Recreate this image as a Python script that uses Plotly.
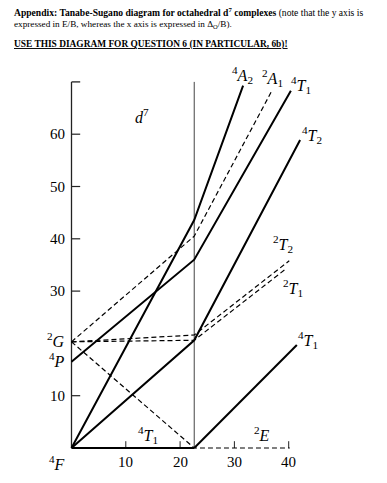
import plotly.graph_objects as go

# ---------------- data (E/B vs Delta_o/B) ----------------
crossover = 22.6

# solid (quartet) curves
q4A2_x = [0, 22.6, 31.6]
q4A2_y = [0, 43.6, 69.3]
q4T2_x = [0, 22.6, 42.1]
q4T2_y = [0, 20.6, 58.9]
q4T1P_x = [0, 22.6, 40.4]
q4T1P_y = [16.5, 36.0, 68.3]
q4T1_ls_x = [22.6, 41.5]
q4T1_ls_y = [0, 19.7]
ground_x = [0, 22.6]
ground_y = [0, 0]

# dashed (doublet) curves
d2A1_x = [0, 22.6, 36.9]
d2A1_y = [20.3, 40.5, 68.3]
d2T2_x = [0, 22.6, 40.1]
d2T2_y = [20.3, 21.6, 35.8]
d2T1_x = [0, 22.6, 39.3]
d2T1_y = [20.3, 20.6, 34.1]
d2E_x = [0, 22.6, 40.2]
d2E_y = [20.3, 0, 0]

# axes ticks
yticks = [10, 30, 40, 50, 60]
ytick_labels = ["10", "30", "40", "50", "60"]
xticks = [10, 20, 30, 40]
xtick_labels = ["10", "20", "30", "40"]
y_top = 70

# term labels: (text, x, y)
term_labels = [
    ("<sup>4</sup><i>A</i><sub>2</sub>", 31.4, 71.4),
    ("<sup>2</sup><i>A</i><sub>1</sub>", 37.1, 70.8),
    ("<sup>4</sup><i>T</i><sub>1</sub>", 42.2, 69.5),
    ("<sup>4</sup><i>T</i><sub>2</sub>", 44.2, 59.8),
    ("<sup>2</sup><i>T</i><sub>2</sub>", 38.9, 39.0),
    ("<sup>2</sup><i>T</i><sub>1</sub>", 40.7, 30.6),
    ("<sup>4</sup><i>T</i><sub>1</sub>", 43.5, 20.7),
    ("<sup>2</sup><i>E</i>", 35.1, 2.6),
    ("<sup>4</sup><i>T</i><sub>1</sub>", 14.1, 2.4),
    ("<i>d</i><sup>7</sup>", 13.0, 63.5),
]
left_labels = [
    ("<sup>2</sup><i>G</i>", 20.7),
    ("<sup>4</sup><i>P</i>", 16.8),
    ("<sup>4</sup><i>F</i>", -2.9),
]

FONT = "Liberation Serif"
W, H = 387, 483
X0PX, XS = 71.5, 5.43
Y0PX, YS = 448.0, 5.23

fig = go.Figure()

def solid(x, y, w=2.0):
    fig.add_trace(go.Scatter(x=x, y=y, mode="lines",
                             line=dict(color="black", width=w), hoverinfo="skip"))

def dashed(x, y):
    fig.add_trace(go.Scatter(x=x, y=y, mode="lines",
                             line=dict(color="black", width=1.2, dash="5px,3px"),
                             hoverinfo="skip"))

# axis lines
fig.add_trace(go.Scatter(x=[0, 0], y=[0, y_top], mode="lines",
                         line=dict(color="#222", width=1.3), hoverinfo="skip"))
fig.add_trace(go.Scatter(x=[0, 1.6], y=[y_top, y_top], mode="lines",
                         line=dict(color="#222", width=1.3), hoverinfo="skip"))
fig.add_trace(go.Scatter(x=[crossover, crossover], y=[0, y_top], mode="lines",
                         line=dict(color="#444", width=1.0), hoverinfo="skip"))
for t in yticks:
    fig.add_trace(go.Scatter(x=[0, 1.6], y=[t, t], mode="lines",
                             line=dict(color="#222", width=1.2), hoverinfo="skip"))
for t in xticks:
    fig.add_trace(go.Scatter(x=[t, t], y=[0, 1.3], mode="lines",
                             line=dict(color="#222", width=1.0), hoverinfo="skip"))

for xs, ys in [(d2A1_x, d2A1_y), (d2T2_x, d2T2_y), (d2T1_x, d2T1_y), (d2E_x, d2E_y)]:
    dashed(xs, ys)
for xs, ys in [(q4A2_x, q4A2_y), (q4T2_x, q4T2_y), (q4T1P_x, q4T1P_y),
               (q4T1_ls_x, q4T1_ls_y), (ground_x, ground_y)]:
    solid(xs, ys)

ann = []
for t, lab in zip(yticks, ytick_labels):
    ann.append(dict(x=-0.8, y=t, text=lab, xanchor="right", yanchor="middle",
                    showarrow=False, font=dict(family=FONT, size=15, color="black")))
for t, lab in zip(xticks, xtick_labels):
    ann.append(dict(x=t, y=-2.6, text=lab, xanchor="center", yanchor="middle",
                    showarrow=False, font=dict(family=FONT, size=15, color="black")))
for txt, x, y in term_labels:
    ann.append(dict(x=x, y=y, text=txt, xanchor="center", yanchor="middle",
                    showarrow=False, font=dict(family=FONT, size=16, color="black")))
for txt, y in left_labels:
    ann.append(dict(x=-0.8, y=y, text=txt, xanchor="right", yanchor="middle",
                    showarrow=False, font=dict(family=FONT, size=16, color="black")))

# header text (paper coords from pixel positions)
header = [
    ("<b>Appendix: Tanabe-Sugano diagram for octahedral d<sup>7</sup> complexes</b> (note that the y axis is", 12.5, 9.6),
    ("expressed in E/B, whereas the x axis is expressed in Δ<sub>O</sub>/B).", 24.5, 9.2),
    ("<b><u>USE THIS DIAGRAM FOR QUESTION 6 (IN PARTICULAR, 6b)!</u></b>", 44, 9.4),
]
for txt, ypx, fs in header:
    ann.append(dict(xref="paper", yref="paper", x=12 / W, y=1 - ypx / H, text=txt,
                    xanchor="left", yanchor="middle", showarrow=False,
                    font=dict(family=FONT, size=fs, color="black")))

fig.update_layout(
    width=W, height=H, margin=dict(l=0, r=0, t=0, b=0),
    paper_bgcolor="white", plot_bgcolor="white", showlegend=False,
    xaxis=dict(range=[-X0PX / XS, (W - X0PX) / XS], visible=False, fixedrange=True),
    yaxis=dict(range=[-(H - Y0PX) / YS, Y0PX / YS], visible=False, fixedrange=True),
    annotations=ann,
)

fig.write_html("out.html")
